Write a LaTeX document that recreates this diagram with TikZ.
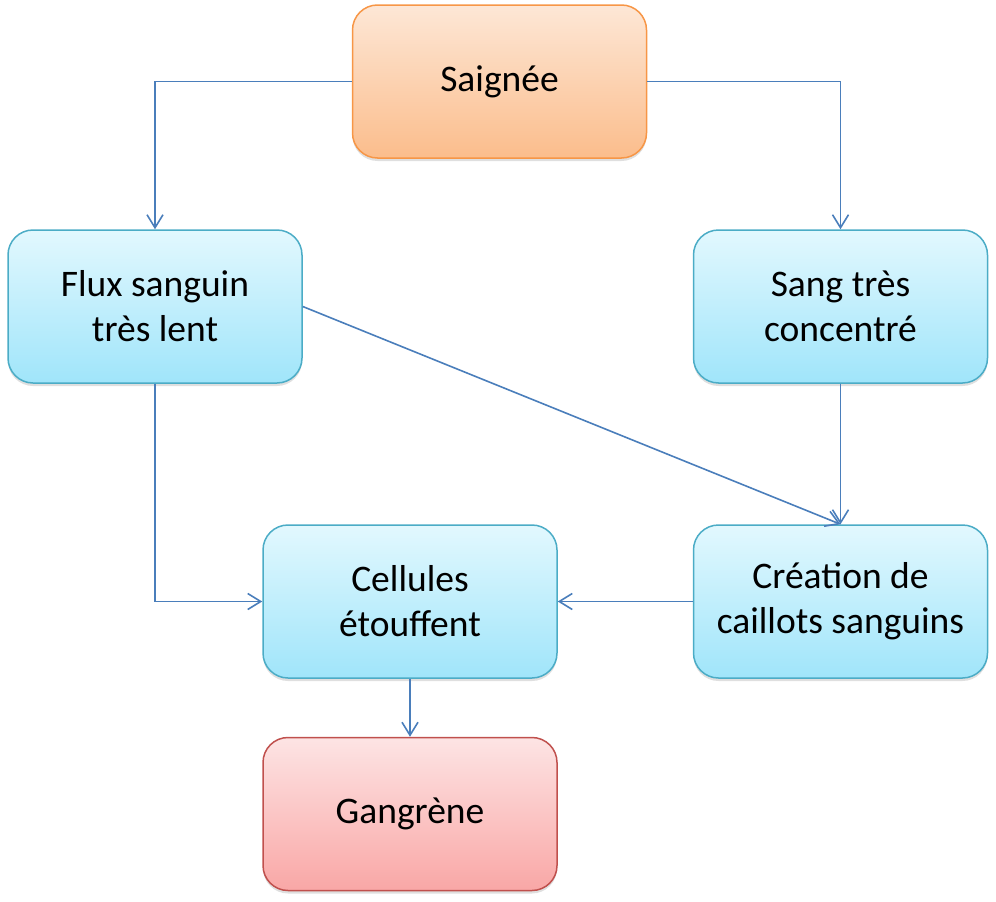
\documentclass[tikz,border=0pt]{standalone}
\usepackage{fontspec}
\setmainfont{Carlito}
\usetikzlibrary{arrows.meta,shadows}
\definecolor{arrowblue}{HTML}{4A7EBB}
\definecolor{blueborder}{HTML}{4BACC6}
\definecolor{bluetop}{HTML}{E2F8FE}
\definecolor{bluebot}{HTML}{A0E5FA}
\definecolor{orangeborder}{HTML}{F79646}
\definecolor{orangetop}{HTML}{FDE7D6}
\definecolor{orangebot}{HTML}{FBBD8C}
\definecolor{redborder}{HTML}{C0504D}
\definecolor{redtop}{HTML}{FDE4E4}
\definecolor{redbot}{HTML}{F9A7A6}
\tikzset{
  box/.style={rounded corners=25pt, minimum width=294pt, minimum height=153pt,
    line width=1.5pt, align=center, inner sep=0pt,
    font=\fontsize{37.5}{45}\selectfont,
    drop shadow={opacity=0.25, shadow xshift=0pt, shadow yshift=-3pt}},
  bluebox/.style={box, draw=blueborder, top color=bluetop, bottom color=bluebot},
  orangebox/.style={box, draw=orangeborder, top color=orangetop, bottom color=orangebot},
  redbox/.style={box, draw=redborder, top color=redtop, bottom color=redbot},
  conn/.style={draw=arrowblue, line width=1.6pt,
    -{Straight Barb[length=13pt,width=16pt,line width=1.6pt]}}
}
\begin{document}
\begin{tikzpicture}[x=1pt,y=1pt]
\useasboundingbox (0,0) rectangle (996,-902);
\node[orangebox] (saignee) at (499.5,-81.5) {Saignée};
\node[bluebox] (flux) at (155,-306.5) {Flux sanguin\\très lent};
\node[bluebox] (sang) at (840.5,-306.5) {Sang très\\concentré};
\node[bluebox] (cellules) at (410,-601.5) {Cellules\\étouffent};
\node[bluebox] (creation) at (840.5,-601.5) {Création de\\caillots sanguins};
\node[redbox] (gangrene) at (410,-814) {Gangrène};
\draw[conn] (saignee.west) -| (flux.north);
\draw[conn] (saignee.east) -| (sang.north);
\draw[conn] (flux.east) -- (creation.north);
\draw[conn] (sang.south) -- (creation.north);
\draw[conn] (flux.south) |- (cellules.west);
\draw[conn] (creation.west) -- (cellules.east);
\draw[conn] (cellules.south) -- (gangrene.north);
\end{tikzpicture}
\end{document}
